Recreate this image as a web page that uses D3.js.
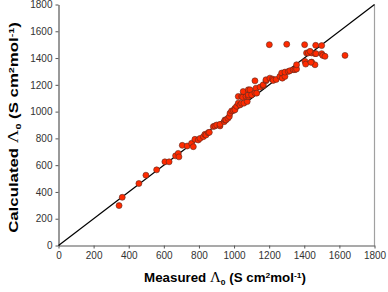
<!DOCTYPE html>
<html><head><meta charset="utf-8">
<script src="https://cdn.jsdelivr.net/npm/d3@7"></script>
<style>body{margin:0;background:#fff}svg{display:block}text{font-family:Arial,"Liberation Sans",sans-serif}</style>
</head><body><svg id="c" width="388" height="292"></svg>
<script>
const measured = [345,363,458,498,559,606,630,667,682,686,705,733,758,768,777,796,806,825,834,840,853,859,882,891,901,920,920,944,948,954,965,973,977,986,996,1005,1005,1015,1024,1034,1043,1056,1075,1024,1043,1049,1068,1081,1052,1081,1081,1091,1100,1119,1125,1119,1129,1148,1166,1166,1182,1182,1204,1219,1223,1240,1261,1271,1275,1290,1290,1309,1318,1337,1347,1356,1356,1201,1300,1402,1465,1499,1632,1413,1423,1442,1433,1461,1467,1499,1505,1518,1404,1408,1442,1461,1438];
const calculated = [298,360,463,525,565,625,625,670,688,662,748,743,763,738,793,788,800,813,830,825,843,845,888,893,900,893,905,925,938,938,950,963,988,1005,1008,1025,1013,1040,1063,1050,1063,1063,1075,1113,1113,1108,1113,1113,1150,1125,1163,1163,1125,1140,1175,1230,1138,1183,1193,1200,1230,1238,1250,1243,1233,1240,1263,1288,1250,1263,1295,1300,1305,1313,1313,1318,1350,1500,1503,1500,1495,1493,1420,1438,1438,1438,1450,1433,1433,1433,1420,1413,1375,1355,1370,1350,1368];
const xTicks = [0,200,400,600,800,1000,1200,1400,1600,1800];
const yTicks = [0,200,400,600,800,1000,1200,1400,1600,1800];
const lineEnds = [0,1800];

const svg = d3.select("#c");
const L=58.5, R=374.5, T=4.5, B=245.5;
const x = d3.scaleLinear().domain([0,1800]).range([L,R]);
const y = d3.scaleLinear().domain([0,1800]).range([B,T]);

svg.append("line").attr("x1",R).attr("x2",R).attr("y1",T).attr("y2",B).attr("stroke","#a0a0a0").attr("stroke-width",1.2);

const xa = svg.append("g").attr("transform",`translate(0,${B})`)
  .call(d3.axisBottom(x).tickValues(xTicks).tickSize(3).tickSizeOuter(0).tickFormat(d3.format("d")));
const ya = svg.append("g").attr("transform",`translate(${L},0)`)
  .call(d3.axisLeft(y).tickValues(yTicks).tickSize(3).tickSizeOuter(0).tickFormat(d3.format("d")));
[xa,ya].forEach(a=>{
  a.select(".domain").attr("stroke","#555").attr("stroke-width",1.2);
  a.selectAll(".tick line").attr("stroke","#555");
  a.selectAll("text").attr("font-size",10).attr("fill","#333").attr("font-family","Arial, 'Liberation Sans', sans-serif");
});
xa.selectAll("text").attr("dy","0.71em").attr("y",6);
ya.selectAll("text").attr("x",-6);

svg.append("line").attr("x1",x(lineEnds[0])).attr("y1",y(lineEnds[0])).attr("x2",x(lineEnds[1])).attr("y2",y(lineEnds[1]))
  .attr("stroke","#000").attr("stroke-width",1.2);

svg.append("g").selectAll("circle").data(measured.map((m,i)=>[m,calculated[i]])).join("circle")
  .attr("cx",d=>x(d[0])).attr("cy",d=>y(d[1])).attr("r",3)
  .attr("fill","#ff2a00").attr("stroke","#5a2a20").attr("stroke-width",0.6);

function title(g, main, targetLen){
  const inner = g.append("g");
  const t = inner.append("text").attr("font-size",12.5).attr("font-weight","bold").attr("fill","#000").attr("text-anchor","middle");
  t.append("tspan").text(main+" ");
  t.append("tspan").attr("font-family","'Liberation Serif',serif").attr("font-weight","normal").attr("font-size",14).text("\u039B");
  t.append("tspan").attr("font-size",8).attr("dy",3).text("0");
  t.append("tspan").attr("dy",-3).text(" (S cm");
  t.append("tspan").attr("font-size",8).attr("dy",-4).text("2");
  t.append("tspan").attr("dy",4).text("mol");
  t.append("tspan").attr("font-size",8).attr("dy",-4).text("-1");
  t.append("tspan").attr("dy",4).text(")");
  const w = t.node().getBBox().width;
  inner.attr("transform",`scale(${targetLen/w},1)`);
}
title(svg.append("g").attr("transform",`translate(225,282)`),"Measured",162);
title(svg.append("g").attr("transform",`translate(18,127.5) rotate(-90)`),"Calculated",211);
</script></body></html>
